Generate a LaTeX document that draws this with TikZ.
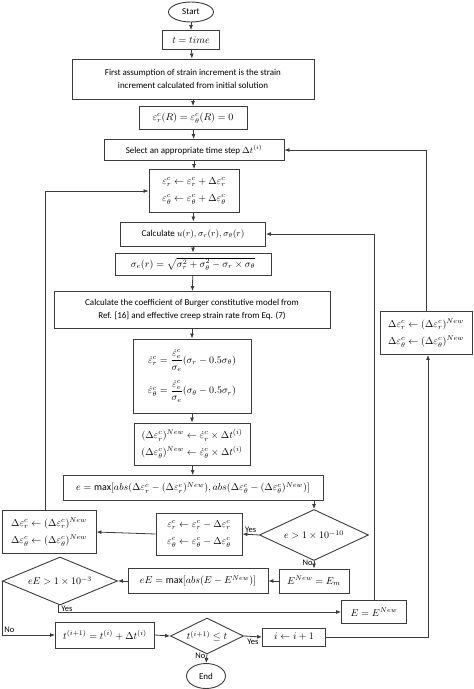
\documentclass[tikz,border=0pt]{standalone}
\usepackage{amsmath}
\usepackage{fontspec}
\setmainfont{Carlito}
\usetikzlibrary{shapes.geometric,arrows.meta}
\definecolor{linecol}{RGB}{60,60,60}
\begin{document}
\begin{tikzpicture}[x=1pt,y=-1pt,
  box/.style={draw=linecol, line width=0.9pt, fill=white, inner sep=0pt, align=center, font=\fontsize{9}{11}\selectfont},
  mbox/.style={box, font=\fontsize{10}{12}\selectfont},
  term/.style={ellipse, draw=linecol, line width=0.9pt, inner sep=0pt, font=\fontsize{9}{11}\selectfont},
  dec/.style={diamond, draw=linecol, line width=0.9pt, inner sep=0pt, aspect=2.4, font=\fontsize{10}{12}\selectfont},
  arr/.style={-{Latex[length=5pt,width=4pt]}, line width=0.8pt, draw=linecol},
  lab/.style={font=\fontsize{8.5}{10}\selectfont, inner sep=0pt}]
\useasboundingbox (0,0) rectangle (474,689);

\node[term, minimum width=45pt, minimum height=20pt] (start) at (191,12) {Start};
\node[mbox, minimum width=57pt, minimum height=19pt] (t) at (191,40) {$t = time$};
\node[box, minimum width=242pt, minimum height=40pt] (first) at (193,79) {First assumption of strain increment is the strain\\[2pt]increment calculated from initial solution};
\node[mbox, minimum width=108pt, minimum height=23pt] (epsR) at (193,118) {$\varepsilon_r^c(R)=\varepsilon_\theta^c(R)=0$};
\node[box, minimum width=180pt, minimum height=21pt] (select) at (194,150) {Select an appropriate time step $\Delta t^{(i)}$};
\node[mbox, minimum width=90pt, minimum height=43pt] (update) at (194,191) {$\varepsilon_r^c \leftarrow \varepsilon_r^c + \Delta\varepsilon_r^c$\\[5pt]$\varepsilon_\theta^c \leftarrow \varepsilon_\theta^c + \Delta\varepsilon_\theta^c$};
\node[box, minimum width=145pt, minimum height=24pt] (calcu) at (193,234) {Calculate $u(r),\sigma_r(r),\sigma_\theta(r)$};
\node[mbox, minimum width=156pt, minimum height=22pt] (sige) at (193,264) {$\sigma_e(r)=\sqrt{\sigma_r^2+\sigma_\theta^2-\sigma_r\times\sigma_\theta}$};
\node[box, minimum width=276pt, minimum height=37pt] (burger) at (192,310) {Calculate the coefficient of Burger constitutive model from\\[2pt]Ref. [16] and effective creep strain rate from Eq. (7)};
\node[mbox, minimum width=118pt, minimum height=74pt] (epsdot) at (192,376) {$\dot\varepsilon_r^c = \dfrac{\dot\varepsilon_e^c}{\sigma_e}(\sigma_r - 0.5\sigma_\theta)$\\[8pt]$\dot\varepsilon_\theta^c = \dfrac{\dot\varepsilon_e^c}{\sigma_e}(\sigma_\theta - 0.5\sigma_r)$};
\node[mbox, minimum width=116pt, minimum height=42pt] (newd) at (192,444) {$(\Delta\varepsilon_r^c)^{New} \leftarrow \dot\varepsilon_r^c\times\Delta t^{(i)}$\\[5pt]$(\Delta\varepsilon_\theta^c)^{New} \leftarrow \dot\varepsilon_\theta^c\times\Delta t^{(i)}$};
\node[mbox, minimum width=260pt, minimum height=25pt] (emax) at (193,488) {$e=\max[abs(\Delta\varepsilon_r^c-(\Delta\varepsilon_r^c)^{New}), abs(\Delta\varepsilon_\theta^c-(\Delta\varepsilon_\theta^c)^{New})]$};
\node[dec, minimum width=109pt, minimum height=51pt] (d1) at (314,535) {$e>1\times10^{-10}$};
\node[mbox, minimum width=86pt, minimum height=42pt] (minus) at (199,534) {$\varepsilon_r^c \leftarrow \varepsilon_r^c - \Delta\varepsilon_r^c$\\[5pt]$\varepsilon_\theta^c \leftarrow \varepsilon_\theta^c - \Delta\varepsilon_\theta^c$};
\node[mbox, minimum width=94pt, minimum height=43pt] (leftb) at (49,532) {$\Delta\varepsilon_r^c \leftarrow (\Delta\varepsilon_r^c)^{New}$\\[5pt]$\Delta\varepsilon_\theta^c \leftarrow (\Delta\varepsilon_\theta^c)^{New}$};
\node[mbox, minimum width=92pt, minimum height=43pt] (rightb) at (426,333) {$\Delta\varepsilon_r^c \leftarrow (\Delta\varepsilon_r^c)^{New}$\\[5pt]$\Delta\varepsilon_\theta^c \leftarrow (\Delta\varepsilon_\theta^c)^{New}$};
\node[mbox, minimum width=70pt, minimum height=24pt] (enew) at (314,581) {$E^{New}=E_m$};
\node[mbox, minimum width=140pt, minimum height=25pt] (eemax) at (198,581) {$eE=\max[abs(E-E^{New})]$};
\node[dec, minimum width=115pt, minimum height=48pt] (d2) at (60,581) {$eE>1\times10^{-3}$};
\node[mbox, minimum width=65pt, minimum height=23pt] (ebox) at (374,612) {$E=E^{New}$};
\node[mbox, minimum width=99pt, minimum height=26pt] (tnext) at (105,635) {$t^{(i+1)}=t^{(i)}+\Delta t^{(i)}$};
\node[dec, minimum width=73pt, minimum height=36pt] (d3) at (207,636) {$t^{(i+1)}\le t$};
\node[mbox, minimum width=63pt, minimum height=18pt] (inc) at (294,637) {$i\leftarrow i+1$};
\node[term, minimum width=39pt, minimum height=25pt] (end) at (206,676) {End};

% main chain
\draw[arr] (start) -- (t);
\draw[arr] (t) -- (first);
\draw[arr] (first) -- (epsR);
\draw[arr] (epsR) -- (select);
\draw[arr] (select) -- (update);
\draw[arr] (update) -- (calcu);
\draw[arr] (calcu) -- (sige);
\draw[arr] (sige) -- (burger);
\draw[arr] (burger) -- (epsdot);
\draw[arr] (epsdot) -- (newd);
\draw[arr] (newd) -- (emax);
\draw[arr] (emax.south -| d1.north) -- (d1.north);
% decision 1
\draw[arr] (d1.west) -- node[lab, above=2pt] {Yes} (minus.east);
\draw[arr] (minus.west) -- (leftb.east);
\draw[arr] ([xshift=-4pt]leftb.north) |- (update.west);
\draw[arr] (d1.south) -- node[lab, pos=0.3, left=1pt] {No} (enew.north);
\draw[arr] (enew.west) -- (eemax.east);
\draw[arr] (eemax.west) -- (d2.east);
% decision 2
\draw[arr] ([xshift=-2pt]d2.south) |- node[lab, pos=0.25, right=3pt] {Yes} (ebox.west);
\draw[arr] (d2.west) |- node[lab, pos=0.45, right=2pt] {No} (tnext.west);
\draw[arr] (ebox.north) |- (calcu.east);
% decision 3
\draw[arr] (tnext.east) -- (d3.west);
\draw[arr] (d3.east) -- node[lab, below=2pt] {Yes} (inc.west);
\draw[arr] (d3.south) -- node[lab, pos=0.2, left=1pt] {No} (end.north);
\draw[arr] (inc.east) -| ([xshift=2pt]rightb.south);
\draw[arr] (rightb.north) |- (select.east);
\end{tikzpicture}
\end{document}
